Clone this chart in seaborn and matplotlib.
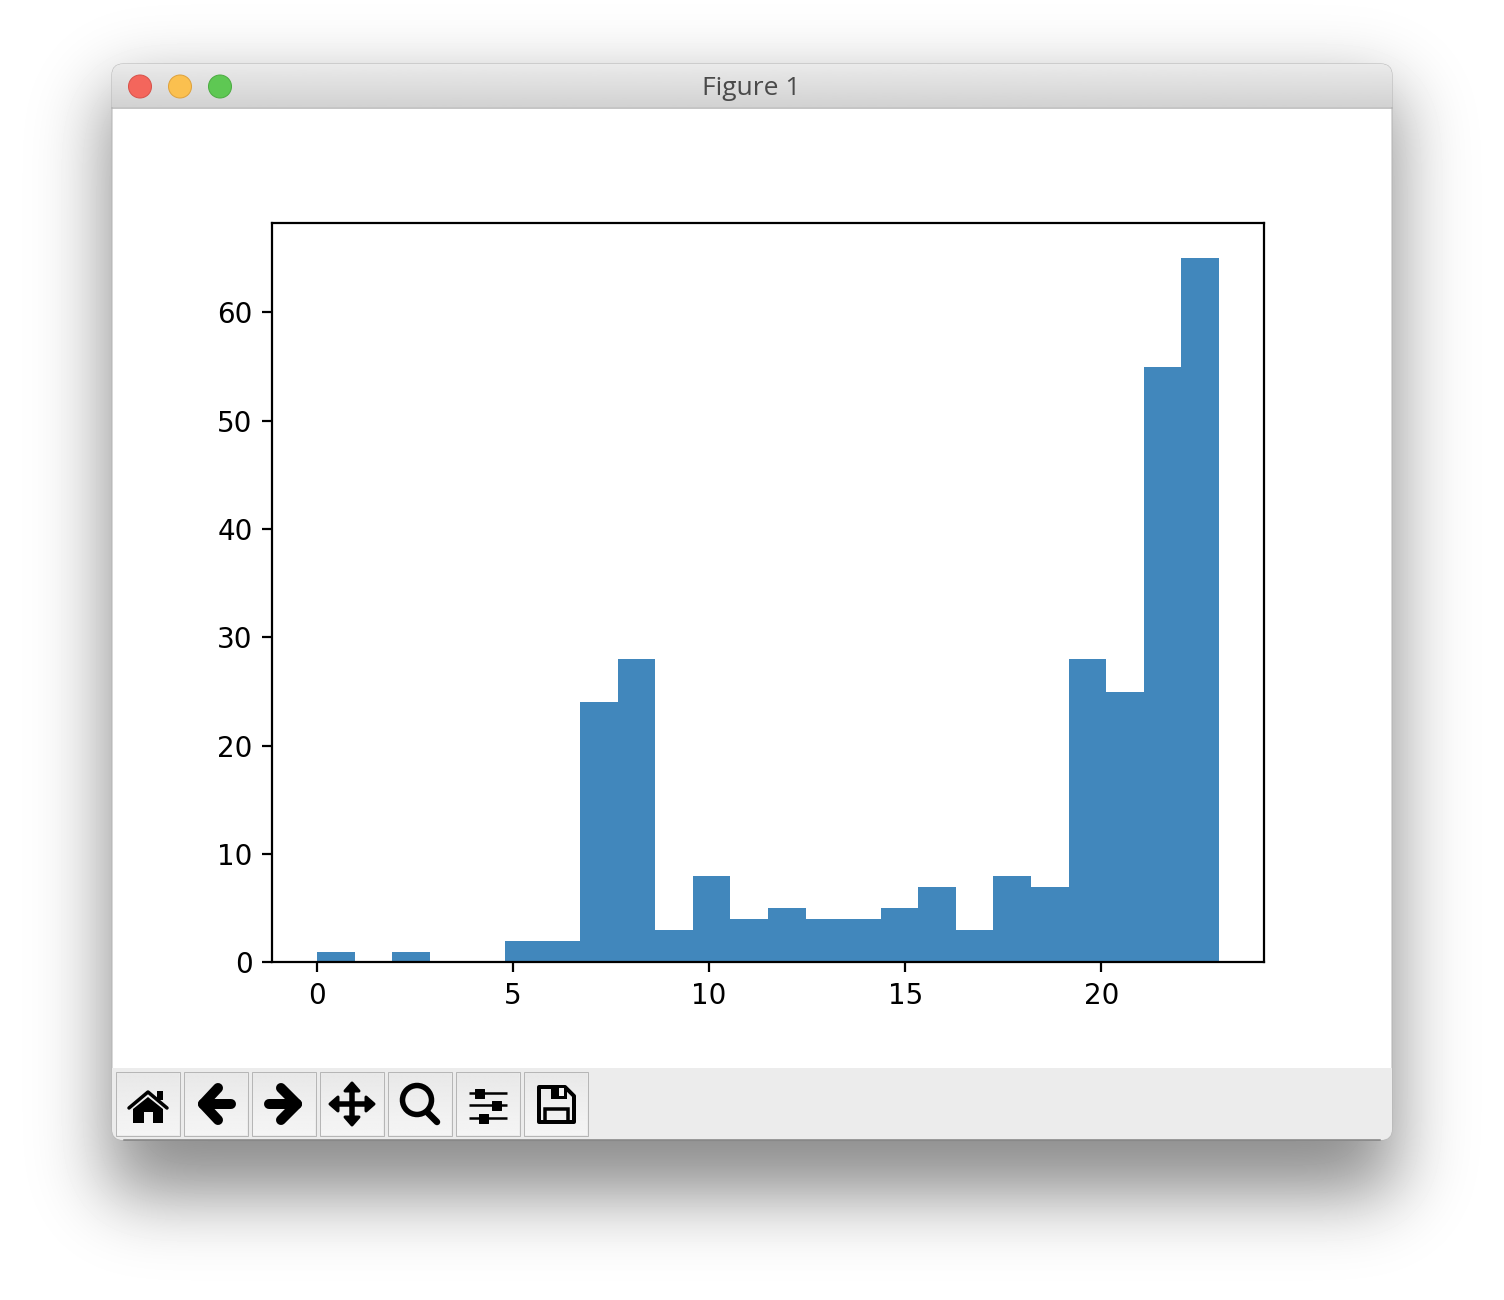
import numpy as np
import pandas as pd
import matplotlib
matplotlib.use("Agg")
import matplotlib.pyplot as plt
from matplotlib.patches import Circle, FancyBboxPatch, Polygon, Rectangle
import seaborn as sns

# hour of day and number of events per hour
hours = list(range(24))
counts = [1, 0, 1, 0, 0, 2, 2, 24, 28, 3, 8, 4, 5, 4, 4, 5, 7, 3, 8, 7, 28, 25, 55, 65]

W, H = 1504, 1300
BAR_COLOR = "#4187bc"


def px(n):
    # line width given in pixels
    return n * 72 / 200


def blur(n, lo, hi, sigma):
    box = ((np.arange(n) >= lo) & (np.arange(n) < hi)).astype(float)
    k = np.exp(-0.5 * (np.arange(-200, 201) / sigma) ** 2)
    return np.convolve(box, k / k.sum(), mode="same")


def gradient(ax, x0, y0, x1, y1, top, bottom, clip=None):
    g = np.linspace(top, bottom, 64).reshape(-1, 1)
    im = ax.imshow(g, extent=(x0, x1, y1, y0), cmap="gray", vmin=0, vmax=255,
                   aspect="auto", zorder=3)
    if clip is not None:
        im.set_clip_path(clip)


def stroke(ax, xs, ys, width, cap="round"):
    ax.plot(xs, ys, color="black", lw=px(width), solid_capstyle=cap,
            solid_joinstyle="round", zorder=6)


def draw_window(ax):
    # drop shadow behind the window
    shadow = blur(W, 108, 1396, 36)[None, :] * blur(H, 90, 1195, 36)[:, None]
    ax.imshow(1 - 0.45 * shadow, cmap="gray", vmin=0, vmax=1, extent=(0, W, H, 0),
              aspect="auto", zorder=1)

    body = FancyBboxPatch((112, 64), 1280, 1076, boxstyle="round,pad=0,rounding_size=11",
                          fc="white", ec="#b4b4b4", lw=px(1), zorder=2)
    ax.add_patch(body)
    gradient(ax, 112, 64, 1392, 107, 234, 210, clip=body)
    ax.add_patch(Rectangle((112, 1068), 1280, 72, fc="#ececec", ec="none", zorder=3,
                           clip_path=body))
    ax.plot([112, 1392], [107.5, 107.5], color="#b2b2b2", lw=px(1.5), zorder=4)
    ax.plot([124, 1380], [1140, 1140], color="#808080", lw=px(1.5), zorder=4)

    for cx, fc, ec in [(140, "#f4665c", "#d8524a"), (180, "#fbc04f", "#dfa23c"),
                       (220, "#5ec853", "#4cac42")]:
        ax.add_patch(Circle((cx, 86.5), 11.5, fc=fc, ec=ec, lw=px(1), zorder=5))
    ax.text(751, 88.5, "Figure 1", ha="center", va="center", color="#4a4a4a",
            fontsize=9.5, family="Open Sans", zorder=5)

    # toolbar buttons
    for x0 in range(116, 525, 68):
        gradient(ax, x0, 1072, x0 + 63, 1135, 232, 245)
        ax.add_patch(Rectangle((x0, 1072), 63.5, 63.5, fc="none", ec="#b6b6b6",
                               lw=px(1), zorder=4))


def draw_icons(ax):
    # home
    ax.add_patch(Polygon([(133, 1109), (148, 1097), (163, 1109), (163, 1123), (153, 1123),
                          (153, 1112), (144, 1112), (144, 1123), (133, 1123)],
                         fc="black", ec="none", zorder=6))
    stroke(ax, [129, 148, 167], [1108, 1092, 1108], 3.5)
    ax.add_patch(Rectangle((157, 1091), 6, 9, fc="black", ec="none", zorder=6))
    # back and forward
    stroke(ax, [203, 231], [1104, 1104], 10)
    stroke(ax, [218, 203, 218], [1088, 1104, 1120], 10)
    stroke(ax, [269, 297], [1104, 1104], 10)
    stroke(ax, [281, 297, 281], [1088, 1104, 1120], 10)
    # move
    stroke(ax, [352, 352], [1088, 1120], 5.5, cap="butt")
    stroke(ax, [335, 369], [1104, 1104], 5.5, cap="butt")
    for pts in ([(352, 1083), (345, 1091), (359, 1091)], [(352, 1125), (345, 1117), (359, 1117)],
                [(330, 1104), (338, 1097), (338, 1111)], [(374, 1104), (366, 1097), (366, 1111)]):
        ax.add_patch(Polygon(pts, fc="black", ec="black", lw=px(3), joinstyle="round", zorder=6))
    # zoom
    ax.add_patch(Circle((417, 1100), 14.5, fc="none", ec="black", lw=px(5.5), zorder=6))
    stroke(ax, [428, 437], [1113, 1122], 6.5)
    # configure
    for y, sx in [(1093, 479), (1105, 496), (1118, 483)]:
        stroke(ax, [469, 507], [y, y], 2.5, cap="butt")
        ax.add_patch(Rectangle((sx - 4.5, y - 4.5), 9, 9, fc="black", ec="black",
                               lw=px(1), joinstyle="round", zorder=6))
    # save
    ax.add_patch(Polygon([(539, 1087), (565, 1087), (574, 1096), (574, 1122), (539, 1122)],
                         fc="none", ec="black", lw=px(4), joinstyle="round", zorder=6))
    ax.add_patch(Polygon([(551, 1087), (567, 1087), (567, 1099), (551, 1099)],
                         fc="black", ec="none", zorder=6))
    ax.add_patch(Rectangle((559, 1088), 5, 8, fc="#f0f0f0", ec="none", zorder=7))
    ax.add_patch(Rectangle((545, 1109), 23, 13, fc="none", ec="black", lw=px(3.5), zorder=6))


if __name__ == "__main__":
    df = pd.DataFrame({"hour": hours, "count": counts})

    fig = plt.figure(figsize=(W / 200, H / 200), dpi=200)

    # window drawn in pixel coordinates behind the chart
    bg = fig.add_axes([0, 0, 1, 1], zorder=0)
    draw_window(bg)
    draw_icons(bg)
    bg.set_xlim(0, W)
    bg.set_ylim(H, 0)
    bg.axis("off")

    ax = fig.add_axes([272 / W, (H - 962.4) / H, 992 / W, 739.4 / H], zorder=1)
    sns.histplot(data=df, x="hour", weights="count", bins=24, binrange=(0, 23),
                 color=BAR_COLOR, alpha=1, linewidth=0, edgecolor="none", ax=ax)
    ax.set(xlabel="", ylabel="")
    ax.set_xticks([0, 5, 10, 15, 20])
    ax.set_yticks([0, 10, 20, 30, 40, 50, 60])

    fig.savefig("out.png", dpi=200)
